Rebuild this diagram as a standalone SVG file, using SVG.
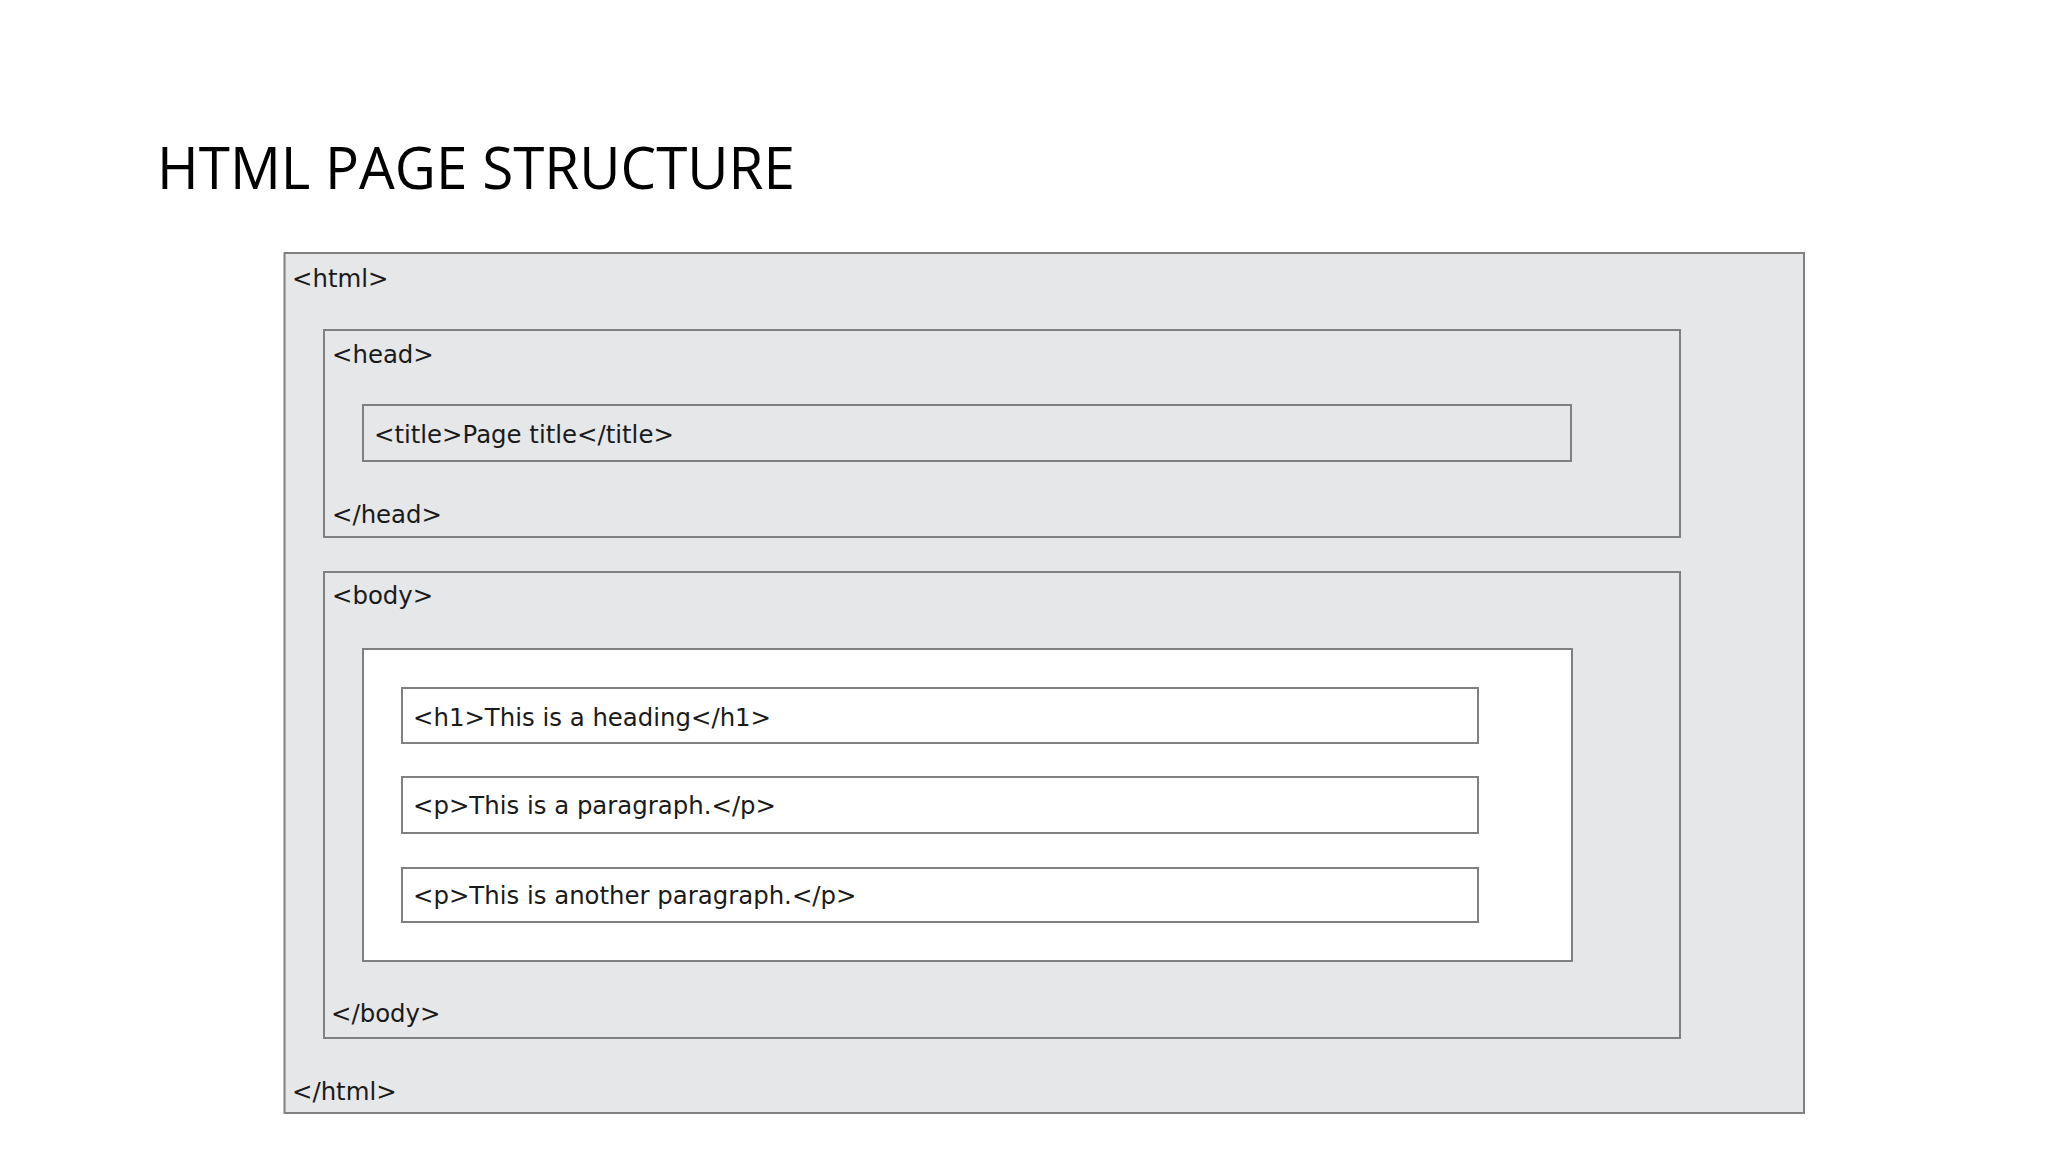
<svg xmlns="http://www.w3.org/2000/svg" width="2048" height="1152" viewBox="0 0 2048 1152">
<style>
.box{fill:#e6e7e9;stroke:#808080;stroke-width:2}
.wbox{fill:#ffffff;stroke:#808080;stroke-width:2}
.lbl{font-family:"DejaVu Sans",Verdana,sans-serif;font-size:24.4px;fill:#1a1a1a}
.ttl{font-family:"Open Sans","Noto Sans",sans-serif;font-size:58px;fill:#000000}
</style>
<rect width="2048" height="1152" fill="#ffffff"/>
<text class="ttl" x="157" y="189" textLength="638" lengthAdjust="spacingAndGlyphs">HTML PAGE STRUCTURE</text>
<g id="html">
<rect class="box" x="284.5" y="253" width="1519.5" height="860"/>
<text class="lbl" x="292" y="287">&lt;html&gt;</text>
<text class="lbl" x="292" y="1100">&lt;/html&gt;</text>
</g>
<g id="head">
<rect class="box" x="324" y="330" width="1356" height="207"/>
<text class="lbl" x="332" y="363">&lt;head&gt;</text>
<text class="lbl" x="332" y="523">&lt;/head&gt;</text>
</g>
<g id="title">
<rect class="box" x="363" y="405" width="1208" height="56"/>
<text class="lbl" x="374" y="443">&lt;title&gt;Page title&lt;/title&gt;</text>
</g>
<g id="body">
<rect class="box" x="324" y="572" width="1356" height="466"/>
<text class="lbl" x="332" y="604">&lt;body&gt;</text>
<text class="lbl" x="331" y="1022">&lt;/body&gt;</text>
</g>
<g id="body-content">
<rect class="wbox" x="363" y="649" width="1209" height="312"/>
</g>
<g id="h1">
<rect class="wbox" x="402" y="688" width="1076" height="55"/>
<text class="lbl" x="413" y="726">&lt;h1&gt;This is a heading&lt;/h1&gt;</text>
</g>
<g id="p1">
<rect class="wbox" x="402" y="777" width="1076" height="56"/>
<text class="lbl" x="413" y="814">&lt;p&gt;This is a paragraph.&lt;/p&gt;</text>
</g>
<g id="p2">
<rect class="wbox" x="402" y="868" width="1076" height="54"/>
<text class="lbl" x="413" y="904">&lt;p&gt;This is another paragraph.&lt;/p&gt;</text>
</g>
<g id="connectors"></g>
</svg>
